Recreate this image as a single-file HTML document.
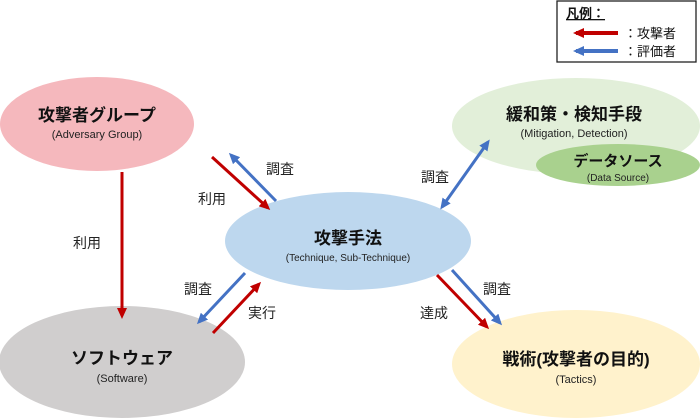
<!DOCTYPE html>
<html><head><meta charset="utf-8"><style>
body{margin:0;background:#fff;}
svg{display:block;font-family:"Liberation Sans","Noto Sans CJK JP",sans-serif;}
.m{font-size:17px;font-weight:bold;fill:#111;text-anchor:middle;}
.s{font-size:11px;fill:#222;text-anchor:middle;}
.l{font-size:14px;fill:#222;text-anchor:middle;}
</style></head><body>
<svg width="700" height="418" viewBox="0 0 700 418">
<defs>
<marker id="r" markerWidth="11" markerHeight="10" refX="8" refY="5" orient="auto" markerUnits="userSpaceOnUse"><path d="M0,0 L11,5 L0,10 Z" fill="#c00000"/></marker>
<marker id="b" markerWidth="11" markerHeight="10" refX="8" refY="5" orient="auto-start-reverse" markerUnits="userSpaceOnUse"><path d="M0,0 L11,5 L0,10 Z" fill="#4472c4"/></marker>
</defs>
<rect x="557" y="1" width="139" height="61" fill="#fff" stroke="#222" stroke-width="1.3"/>
<text x="566" y="18" font-size="13" font-weight="bold" fill="#111" text-decoration="underline">凡例：</text>
<line x1="618" y1="33" x2="576" y2="33" stroke="#c00000" stroke-width="4" marker-end="url(#r)"/>
<text x="624" y="38" font-size="13" fill="#111">：攻撃者</text>
<line x1="618" y1="51" x2="576" y2="51" stroke="#4472c4" stroke-width="4" marker-end="url(#b)"/>
<text x="624" y="56" font-size="13" fill="#111">：評価者</text>

<ellipse cx="97" cy="124" rx="97" ry="47" fill="#f5b8bd"/>
<text class="m" x="97" y="121">攻撃者グループ</text><text class="s" x="97" y="138">(Adversary Group)</text>

<ellipse cx="576" cy="126" rx="124" ry="48" fill="#e2efd9"/>
<text class="m" x="574" y="120">緩和策・検知手段</text><text class="s" x="574" y="137">(Mitigation, Detection)</text>
<ellipse cx="618" cy="165" rx="82" ry="21" fill="#a9d18e"/>
<text class="m" x="618" y="166" style="font-size:15px">データソース</text><text class="s" x="618" y="181" style="font-size:10px">(Data Source)</text>

<ellipse cx="348" cy="241" rx="123" ry="49" fill="#bdd7ee"/>
<text class="m" x="348" y="244">攻撃手法</text><text class="s" x="348" y="261" style="font-size:10px">(Technique, Sub-Technique)</text>

<ellipse cx="122" cy="362" rx="123" ry="56" fill="#d0cece"/>
<text class="m" x="122" y="364">ソフトウェア</text><text class="s" x="122" y="382">(Software)</text>

<ellipse cx="576" cy="364" rx="124" ry="54" fill="#fff2cc"/>
<text class="m" x="576" y="365">戦術(攻撃者の目的)</text><text class="s" x="576" y="383">(Tactics)</text>

<line x1="122" y1="172" x2="122" y2="316" stroke="#c00000" stroke-width="3" marker-end="url(#r)"/>
<text class="l" x="87" y="248">利用</text>

<line x1="212" y1="157" x2="268" y2="208" stroke="#c00000" stroke-width="3" marker-end="url(#r)"/>
<line x1="276" y1="201" x2="231" y2="155" stroke="#4472c4" stroke-width="3" marker-end="url(#b)"/>
<text class="l" x="280" y="174">調査</text><text class="l" x="212" y="204">利用</text>

<line x1="442" y1="207" x2="488" y2="142" stroke="#4472c4" stroke-width="3" marker-start="url(#b)" marker-end="url(#b)"/>
<text class="l" x="435" y="182">調査</text>

<line x1="245" y1="273" x2="199" y2="322" stroke="#4472c4" stroke-width="3" marker-end="url(#b)"/>
<line x1="213" y1="333" x2="259" y2="284" stroke="#c00000" stroke-width="3" marker-end="url(#r)"/>
<text class="l" x="198" y="294">調査</text><text class="l" x="262" y="318">実行</text>

<line x1="437" y1="275" x2="487" y2="327" stroke="#c00000" stroke-width="3" marker-end="url(#r)"/>
<line x1="452" y1="270" x2="500" y2="323" stroke="#4472c4" stroke-width="3" marker-end="url(#b)"/>
<text class="l" x="434" y="318">達成</text><text class="l" x="497" y="294">調査</text>
</svg>
</body></html>
